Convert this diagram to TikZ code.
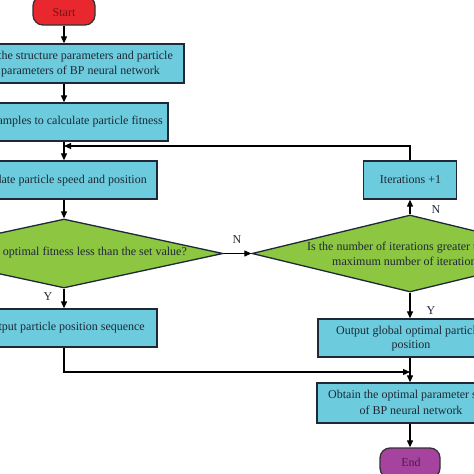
\documentclass[tikz,border=0pt]{standalone}
\usepackage{fontspec}
\setmainfont{Liberation Serif}
\usepackage{tikz}
\usetikzlibrary{positioning}
\usetikzlibrary{shapes.geometric}
\usetikzlibrary{arrows.meta}

\definecolor{boxfill}{RGB}{108,203,220}
\definecolor{decfill}{RGB}{141,198,65}
\definecolor{startfill}{RGB}{232,40,46}
\definecolor{endfill}{RGB}{166,67,159}
\definecolor{edge}{RGB}{30,40,55}

\begin{document}
\begin{tikzpicture}[x=1pt,y=-1pt,
    font=\fontsize{12}{14}\selectfont,
    procbox/.style={draw=edge,line width=1.3pt,fill=boxfill,inner sep=0pt},
    decbox/.style={diamond,draw=edge,line width=1.3pt,fill=decfill,inner sep=0pt},
    termbox/.style={draw=black!80,line width=1.3pt,rounded corners=10pt,inner sep=0pt},
    flow/.style={line width=1.1pt,-{Triangle[length=7pt,width=6pt]}},
    lbl/.style={text=edge,inner sep=0pt}]
            \useasboundingbox (0,0) rectangle (474,474);
            \clip (0,0) rectangle (474,474);
            % Left column
            \node[termbox,fill=startfill,minimum width=62,minimum height=29] (start) at (64,10.5) {};
            \node[procbox,minimum width=240,minimum height=39] (init) at (64,63.5) {};
            \node[procbox,minimum width=208,minimum height=38] (fit) at (64,122) {};
            \node[procbox,minimum width=186,minimum height=38] (update) at (64,180) {};
            \node[decbox,minimum width=318,minimum height=69] (judge1) at (64,253.5) {};
            \node[procbox,minimum width=186,minimum height=38] (outseq) at (64,328) {};
            % Right column
            \node[procbox,minimum width=93,minimum height=38] (iter) at (410,180) {};
            \node[decbox,minimum width=316,minimum height=77] (judge2) at (410,253.5) {};
            \node[procbox,minimum width=184,minimum height=38] (outglob) at (410,338) {};
            \node[procbox,minimum width=186,minimum height=40] (obtain) at (410,403) {};
            \node[termbox,fill=endfill,minimum width=60,minimum height=30] (end) at (410,463) {};
            % Texts
            \node[lbl,text=startfill!50!black] (start-txt) at (64,13) {Start};
            \node[lbl,anchor=east] (init-txt1) at (173,57) {the structure parameters and particle};
            \node[lbl,anchor=east] (init-txt2) at (160,72) {parameters of BP neural network};
            \node[lbl,anchor=east] (fit-txt) at (163,122) {samples to calculate particle fitness};
            \node[lbl,anchor=east] (update-txt) at (147,181) {Update particle speed and position};
            \node[lbl,anchor=east] (judge1-txt) at (187,253) {the optimal fitness less than the set value?};
            \node[lbl,anchor=east] (outseq-txt) at (145,328) {Output particle position sequence};
            \node[lbl] (iter-txt) at (410.5,180) {Iterations +1};
            \node[lbl,anchor=west] (judge2-txt1) at (307,248) {Is the number of iterations greater than the};
            \node[lbl,anchor=west] (judge2-txt2) at (332,261) {maximum number of iterations?};
            \node[lbl,anchor=west] (outglob-txt1) at (336,332) {Output global optimal particle};
            \node[lbl] (outglob-txt2) at (411,346) {position};
            \node[lbl,anchor=west] (obtain-txt1) at (328,396) {Obtain the optimal parameter set};
            \node[lbl] (obtain-txt2) at (411,410) {of BP neural network};
            \node[lbl,text=endfill!45!black] (end-txt) at (411,462) {End};
            % Connectors
            \coordinate (loop) at (64,146);
            \coordinate (merge) at (410,372);
            \draw[flow] (start) -- (init);
            \draw[flow] (init) -- (fit);
            \draw[flow] (fit) -- (update);
            \draw[flow] (update) -- (judge1);
            \draw[flow] (judge1) -- (outseq);
            \draw[flow] (judge1.east) -- (judge2.west);
            \draw[flow] (judge2) -- (iter);
            \draw[flow] (iter.north) |- (loop);
            \draw[flow] (judge2) -- (outglob);
            \draw[flow] (outglob) -- (obtain);
            \draw[flow] (outseq.south) |- (merge);
            \draw[flow] (obtain) -- (end);
            % Branch labels
            \node[lbl] (y1) at (48,297) {Y};
            \node[lbl] (n1) at (237,240) {N};
            \node[lbl] (n2) at (436,210) {N};
            \node[lbl] (y2) at (431,311) {Y};
        \end{tikzpicture}
\end{document}
